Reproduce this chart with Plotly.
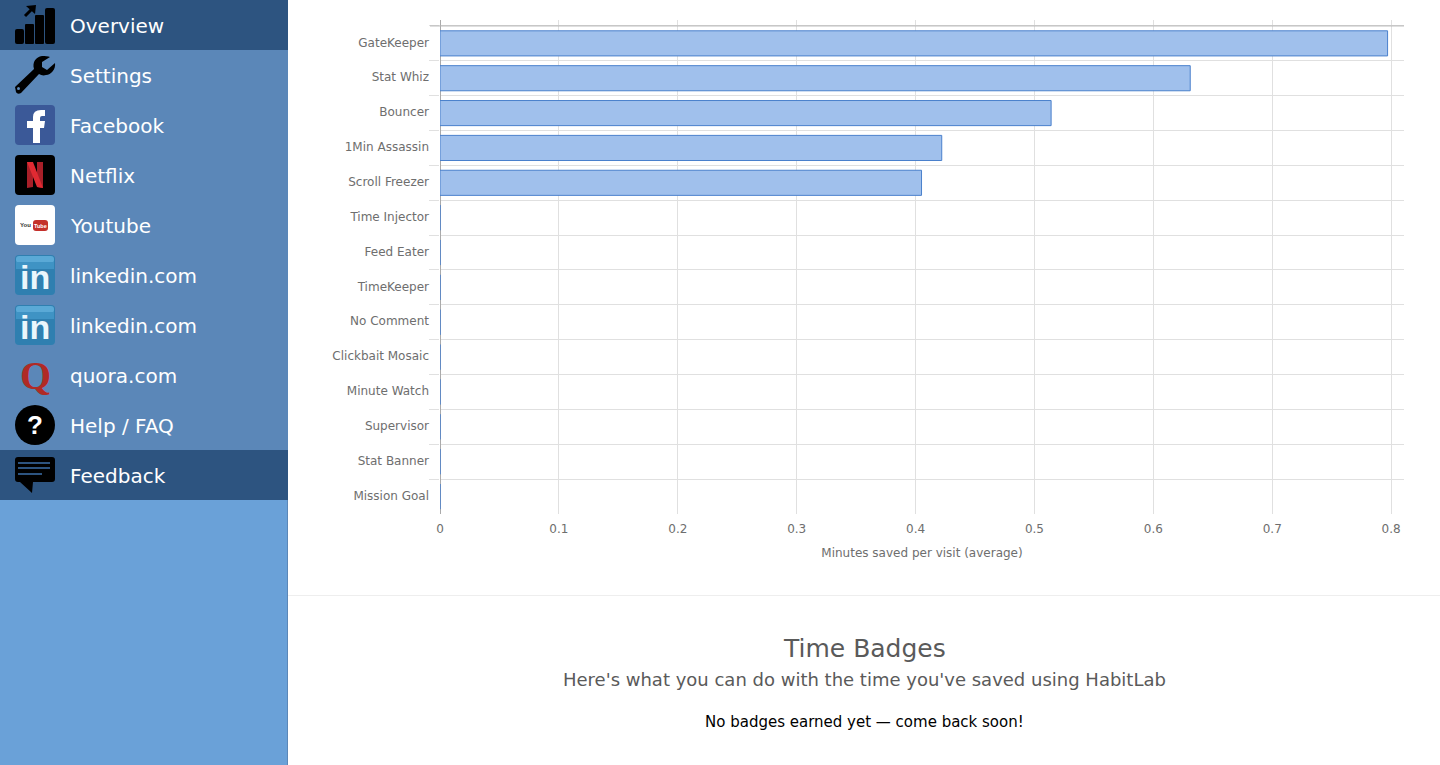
import plotly.graph_objects as go

badges = ['GateKeeper', 'Stat Whiz', 'Bouncer', '1Min Assassin', 'Scroll Freezer',
          'Time Injector', 'Feed Eater', 'TimeKeeper', 'No Comment', 'Clickbait Mosaic',
          'Minute Watch', 'Supervisor', 'Stat Banner', 'Mission Goal']
minutes_saved = [0.797, 0.631, 0.514, 0.422, 0.405, 0, 0, 0, 0, 0, 0, 0, 0, 0]
x_ticks = [0, 0.1, 0.2, 0.3, 0.4, 0.5, 0.6, 0.7, 0.8]
x_labels = ['0', '0.1', '0.2', '0.3', '0.4', '0.5', '0.6', '0.7', '0.8']
menu_items = ['Overview', 'Settings', 'Facebook', 'Netflix', 'Youtube',
              'linkedin.com', 'linkedin.com', 'quora.com', 'Help / FAQ', 'Feedback']

W, H = 1440, 765
FONT = 'DejaVu Sans'

fig = go.Figure()
fig.add_trace(go.Bar(
    x=minutes_saved, y=badges, orientation='h',
    marker=dict(color='#a0c0ec', line=dict(color='#4a80cc', width=1)),
    hoverinfo='x+y',
))
# invisible trace so the pixel axes exist
fig.add_trace(go.Scatter(x=[0], y=[0], xaxis='x2', yaxis='y2', mode='none',
                         showlegend=False, hoverinfo='skip'))

shapes = []
notes = []


def rect(x0, y0, x1, y1, color, layer='below'):
    shapes.append(dict(type='rect', xref='x2', yref='y2', x0=x0, y0=y0, x1=x1, y1=y1,
                       fillcolor=color, line=dict(color=color, width=0), layer=layer))


def path(d, color):
    shapes.append(dict(type='path', xref='x2', yref='y2', path=d, fillcolor=color,
                       line=dict(color='rgba(0,0,0,0)', width=0), layer='above'))


def stroke(d, color, width):
    shapes.append(dict(type='path', xref='x2', yref='y2', path=d,
                       line=dict(color=color, width=width), layer='above'))


def rrect(x0, y0, x1, y1, r, color):
    path(f'M{x0+r},{y0} L{x1-r},{y0} Q{x1},{y0} {x1},{y0+r} L{x1},{y1-r} Q{x1},{y1} {x1-r},{y1} '
         f'L{x0+r},{y1} Q{x0},{y1} {x0},{y1-r} L{x0},{y0+r} Q{x0},{y0} {x0+r},{y0} Z', color)


def circle(x0, y0, x1, y1, color):
    shapes.append(dict(type='circle', xref='x2', yref='y2', x0=x0, y0=y0, x1=x1, y1=y1,
                       fillcolor=color, line=dict(width=0), layer='above'))


def text(x, y, s, size, color, family=FONT, anchor='left', bold=False):
    notes.append(dict(xref='x2', yref='y2', x=x, y=y, text=f'<b>{s}</b>' if bold else s,
                      showarrow=False, xanchor=anchor, yanchor='middle', borderpad=0,
                      font=dict(family=family, size=size, color=color)))


# sidebar
rect(0, 0, 288, 765, '#6aa1d8')
rect(287, 500, 288, 765, '#5b87b8')
rect(0, 0, 288, 500, '#5b87b8')
rect(0, 0, 288, 50, '#2d5480')
rect(0, 450, 288, 500, '#2d5480')
# line above the badges block
rect(288, 595, 1440, 596, '#eeeeee')

for i, item in enumerate(menu_items):
    text(69, 26 + 50 * i, item, 20, '#ffffff')

# overview icon
rrect(15, 29, 24, 44, 2, '#000000')
rrect(25, 24, 34, 44, 1, '#000000')
rrect(35, 15, 44, 44, 1, '#000000')
rrect(45, 8, 55, 44, 2, '#000000')
stroke('M25,16 L33,8', '#000000', 3)
path('M26,6 L36,5 L35,14 Z', '#000000')

# wrench icon
path('M15,87 L34,69 C32,62 36,57 42,56 C45,56 48,56 50,57 L42,62 L42,67 L47,70 L55,63 '
     'C56,69 51,75 46,75 C43,76 41,75 39,74 L21,93 C19,94 17,94 16,92 Z', '#000000')
circle(17, 87, 20, 90, '#5b87b8')

# facebook icon
rrect(15, 105, 55, 145, 4, '#3b5998')
path('M33,143 L33,128 L27,128 L27,121 L33,121 L33,117 Q33,110 41,110 L45,110 L45,116 L42,116 '
     'Q40,116 40,118 L40,121 L45,121 L44,128 L40,128 L40,143 Z', '#ffffff')

# netflix icon
rrect(15, 155, 55, 195, 4, '#000000')
path('M27,162 L33,162 L33,187 L27,188 Z', '#a81f28')
path('M37,162 L43,162 L43,188 L37,187 Z', '#a81f28')
path('M27,162 L33,162 L43,188 L37,187 Z', '#e02a32')

# youtube icon
rrect(15, 205, 55, 245, 4, '#ffffff')
text(32, 225, 'You', 6, '#333333', 'Liberation Sans', 'right', True)
rrect(33, 220, 48, 231, 3, '#c4302b')
text(40.5, 225.5, 'Tube', 5.5, '#ffffff', 'Liberation Sans', 'center', True)

# linkedin icons
for top in (255, 305):
    rrect(15, top, 55, top + 40, 4, '#2f7fb0')
    rrect(16, top + 1, 54, top + 8, 3, '#5aa9d6')
    rect(16, top + 7, 54, top + 14, '#3f93c4', layer='above')
    text(35, top + 22, 'in', 34, '#eaf6fc', 'Liberation Sans', 'center', True)

# quora icon
text(35, 375, 'Q', 40, '#b02a25', 'Liberation Serif', 'center', True)

# help icon
circle(15, 405, 55, 445, '#000000')
text(35, 425, '?', 26, '#ffffff', 'Liberation Sans', 'center', True)

# feedback icon
path('M18,457 L52,457 Q55,457 55,460 L55,479 Q55,482 52,482 L33,482 L32,493 L20,482 L18,482 '
     'Q15,482 15,479 L15,460 Q15,457 18,457 Z', '#000000')
for y0, y1, x1 in ((462, 464, 50), (467, 469, 50), (473, 475, 42)):
    rect(18, y0, x1, y1, '#2d5480', layer='above')

# badges block
text(864, 648, 'Time Badges', 25, '#5a5a5a', anchor='center')
text(864, 679, "Here's what you can do with the time you've saved using HabitLab", 18, '#5a5a5a', anchor='center')
text(864, 722, 'No badges earned yet — come back soon!', 15, '#000000', anchor='center')

# dark line on the top category boundary
shapes.append(dict(type='line', xref='x domain', yref='y', x0=-10 / 964, x1=1, y0=-0.5, y1=-0.5,
                   line=dict(color='#b4b4b4', width=1), layer='above'))

fig.update_layout(
    width=W, height=H,
    margin=dict(l=0, r=0, t=0, b=0),
    paper_bgcolor='#ffffff', plot_bgcolor='rgba(0,0,0,0)',
    showlegend=False,
    bargap=0.28,
    font=dict(family=FONT, size=12, color='#6e6e6e'),
    shapes=shapes, annotations=notes,
    xaxis=dict(domain=[440 / W, 1404 / W], range=[0, 0.8108], tickmode='array',
               tickvals=x_ticks, ticktext=x_labels, gridcolor='#e0e0e0', zeroline=True,
               zerolinecolor='#aaaaaa', zerolinewidth=1, showline=False, ticks='outside',
               ticklen=4, tickcolor='rgba(0,0,0,0)', tickfont=dict(size=12), automargin=False,
               title=dict(text='Minutes saved per visit (average)', font=dict(size=12), standoff=13)),
    yaxis=dict(domain=[1 - 514 / H, 1 - 20 / H], type='category', categoryorder='array',
               categoryarray=badges, range=[13.5, -0.67], tickson='boundaries',
               ticks='outside', ticklen=10, tickcolor='#e0e0e0', gridcolor='#e0e0e0',
               showline=False, ticklabelstandoff=10, ticklabelshift=1, automargin=False),
    xaxis2=dict(domain=[0, 1], range=[0, W], visible=False, anchor='y2', fixedrange=True),
    yaxis2=dict(domain=[0, 1], range=[H, 0], visible=False, anchor='x2', fixedrange=True),
)

fig.write_html('out.html', config=dict(displayModeBar=False),
               post_script="document.body.style.margin='0';document.body.style.overflow='hidden';")
